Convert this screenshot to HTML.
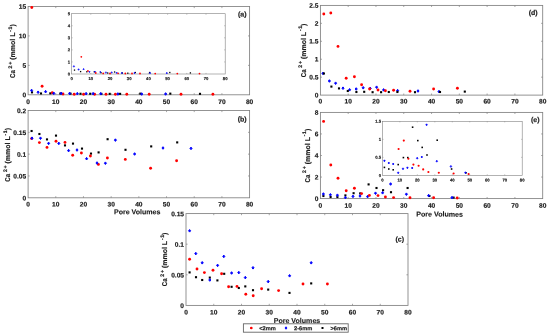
<!DOCTYPE html>
<html lang="en"><head><meta charset="utf-8"><title>Ca2+ vs Pore Volumes</title>
<style>
html,body{margin:0;padding:0;background:#fff;}
body{width:550px;height:336px;overflow:hidden;}
svg{display:block;font-family:"Liberation Sans",sans-serif;fill:#1a1a1a;}
svg text{fill:#1a1a1a;stroke:#1a1a1a;stroke-width:0.18px;text-rendering:geometricPrecision;}
</style></head><body>
<svg width="550" height="336" viewBox="0 0 550 336">
<rect width="550" height="336" fill="#fff"/>
<rect x="28.10" y="6.50" width="221.50" height="88.30" fill="#fff" stroke="#808080" stroke-width="0.85"/>
<text x="28.10" y="103.90" transform="rotate(0.2 28.10 103.90)" font-size="6.6" text-anchor="middle" font-weight="bold" >0</text>
<line x1="55.79" y1="94.80" x2="55.79" y2="93.20" stroke="#808080" stroke-width="0.68"/>
<line x1="55.79" y1="6.50" x2="55.79" y2="8.10" stroke="#808080" stroke-width="0.68"/>
<text x="55.79" y="103.90" transform="rotate(0.2 55.79 103.90)" font-size="6.6" text-anchor="middle" font-weight="bold" >10</text>
<line x1="83.47" y1="94.80" x2="83.47" y2="93.20" stroke="#808080" stroke-width="0.68"/>
<line x1="83.47" y1="6.50" x2="83.47" y2="8.10" stroke="#808080" stroke-width="0.68"/>
<text x="83.47" y="103.90" transform="rotate(0.2 83.47 103.90)" font-size="6.6" text-anchor="middle" font-weight="bold" >20</text>
<line x1="111.16" y1="94.80" x2="111.16" y2="93.20" stroke="#808080" stroke-width="0.68"/>
<line x1="111.16" y1="6.50" x2="111.16" y2="8.10" stroke="#808080" stroke-width="0.68"/>
<text x="111.16" y="103.90" transform="rotate(0.2 111.16 103.90)" font-size="6.6" text-anchor="middle" font-weight="bold" >30</text>
<line x1="138.85" y1="94.80" x2="138.85" y2="93.20" stroke="#808080" stroke-width="0.68"/>
<line x1="138.85" y1="6.50" x2="138.85" y2="8.10" stroke="#808080" stroke-width="0.68"/>
<text x="138.85" y="103.90" transform="rotate(0.2 138.85 103.90)" font-size="6.6" text-anchor="middle" font-weight="bold" >40</text>
<line x1="166.54" y1="94.80" x2="166.54" y2="93.20" stroke="#808080" stroke-width="0.68"/>
<line x1="166.54" y1="6.50" x2="166.54" y2="8.10" stroke="#808080" stroke-width="0.68"/>
<text x="166.54" y="103.90" transform="rotate(0.2 166.54 103.90)" font-size="6.6" text-anchor="middle" font-weight="bold" >50</text>
<line x1="194.22" y1="94.80" x2="194.22" y2="93.20" stroke="#808080" stroke-width="0.68"/>
<line x1="194.22" y1="6.50" x2="194.22" y2="8.10" stroke="#808080" stroke-width="0.68"/>
<text x="194.22" y="103.90" transform="rotate(0.2 194.22 103.90)" font-size="6.6" text-anchor="middle" font-weight="bold" >60</text>
<line x1="221.91" y1="94.80" x2="221.91" y2="93.20" stroke="#808080" stroke-width="0.68"/>
<line x1="221.91" y1="6.50" x2="221.91" y2="8.10" stroke="#808080" stroke-width="0.68"/>
<text x="221.91" y="103.90" transform="rotate(0.2 221.91 103.90)" font-size="6.6" text-anchor="middle" font-weight="bold" >70</text>
<text x="249.60" y="103.90" transform="rotate(0.2 249.60 103.90)" font-size="6.6" text-anchor="middle" font-weight="bold" >80</text>
<text x="26.10" y="97.16" transform="rotate(0.2 26.10 97.16)" font-size="6.6" text-anchor="end" font-weight="bold" >0</text>
<line x1="28.10" y1="65.37" x2="29.70" y2="65.37" stroke="#808080" stroke-width="0.68"/>
<line x1="249.60" y1="65.37" x2="248.00" y2="65.37" stroke="#808080" stroke-width="0.68"/>
<text x="26.10" y="67.73" transform="rotate(0.2 26.10 67.73)" font-size="6.6" text-anchor="end" font-weight="bold" >5</text>
<line x1="28.10" y1="35.93" x2="29.70" y2="35.93" stroke="#808080" stroke-width="0.68"/>
<line x1="249.60" y1="35.93" x2="248.00" y2="35.93" stroke="#808080" stroke-width="0.68"/>
<text x="26.10" y="38.30" transform="rotate(0.2 26.10 38.30)" font-size="6.6" text-anchor="end" font-weight="bold" >10</text>
<text x="26.10" y="8.86" transform="rotate(0.2 26.10 8.86)" font-size="6.6" text-anchor="end" font-weight="bold" >15</text>
<g transform="translate(15.00,77.80) rotate(-90)" font-weight="bold" font-size="7"><text x="-0.2" y="0" textLength="7.9" lengthAdjust="spacingAndGlyphs">Ca</text><text x="9.4" y="-3.4" font-size="5.2" letter-spacing="0.8">2+</text><text x="18.0" y="0">(mmol L</text><text x="46.1" y="-3.4" font-size="5.2" letter-spacing="0.5">-1</text><text x="51.2" y="0">)</text></g>
<text x="242.20" y="16.60" transform="rotate(0.2 242.20 16.60)" font-size="7" text-anchor="middle" font-weight="bold" >(a)</text>
<rect x="30.95" y="91.30" width="2.10" height="2.10" fill="#000000"/>
<rect x="39.95" y="92.40" width="2.10" height="2.10" fill="#000000"/>
<rect x="49.25" y="92.30" width="2.10" height="2.10" fill="#000000"/>
<rect x="59.25" y="92.50" width="2.10" height="2.10" fill="#000000"/>
<rect x="69.45" y="92.60" width="2.10" height="2.10" fill="#000000"/>
<rect x="79.45" y="92.70" width="2.10" height="2.10" fill="#000000"/>
<rect x="89.15" y="92.70" width="2.10" height="2.10" fill="#000000"/>
<rect x="100.35" y="92.80" width="2.10" height="2.10" fill="#000000"/>
<rect x="108.65" y="92.80" width="2.10" height="2.10" fill="#000000"/>
<rect x="119.05" y="92.80" width="2.10" height="2.10" fill="#000000"/>
<rect x="139.25" y="92.60" width="2.10" height="2.10" fill="#000000"/>
<rect x="169.25" y="92.60" width="2.10" height="2.10" fill="#000000"/>
<rect x="198.95" y="92.80" width="2.10" height="2.10" fill="#000000"/>
<circle cx="31.8" cy="7.5" r="1.43" fill="#ff0000"/>
<circle cx="42.1" cy="86.2" r="1.43" fill="#ff0000"/>
<circle cx="52.3" cy="92.8" r="1.43" fill="#ff0000"/>
<circle cx="63.0" cy="94.0" r="1.43" fill="#ff0000"/>
<circle cx="74.2" cy="94.2" r="1.43" fill="#ff0000"/>
<circle cx="83.6" cy="94.2" r="1.43" fill="#ff0000"/>
<circle cx="94.6" cy="94.2" r="1.43" fill="#ff0000"/>
<circle cx="106.0" cy="94.2" r="1.43" fill="#ff0000"/>
<circle cx="115.4" cy="94.2" r="1.43" fill="#ff0000"/>
<circle cx="126.8" cy="94.2" r="1.43" fill="#ff0000"/>
<circle cx="149.2" cy="94.2" r="1.43" fill="#ff0000"/>
<circle cx="181.0" cy="94.2" r="1.43" fill="#ff0000"/>
<circle cx="212.9" cy="94.2" r="1.43" fill="#ff0000"/>
<path d="M31.6 89.15L32.65 90.5L31.6 91.75L30.55 90.5Z" fill="#0000ff" stroke="#0000ff" stroke-width="0.95" stroke-linejoin="round"/>
<path d="M38.1 90.95L39.15 92.2L38.1 93.55L37.05 92.2Z" fill="#0000ff" stroke="#0000ff" stroke-width="0.95" stroke-linejoin="round"/>
<path d="M45.6 90.35L46.65 91.7L45.6 92.95L44.55 91.7Z" fill="#0000ff" stroke="#0000ff" stroke-width="0.95" stroke-linejoin="round"/>
<path d="M53.8 92.05L54.85 93.3L53.8 94.65L52.75 93.3Z" fill="#0000ff" stroke="#0000ff" stroke-width="0.95" stroke-linejoin="round"/>
<path d="M61.2 92.05L62.25 93.3L61.2 94.65L60.15 93.3Z" fill="#0000ff" stroke="#0000ff" stroke-width="0.95" stroke-linejoin="round"/>
<path d="M69.6 92.15L70.65 93.5L69.6 94.75L68.55 93.5Z" fill="#0000ff" stroke="#0000ff" stroke-width="0.95" stroke-linejoin="round"/>
<path d="M77.3 92.35L78.35 93.7L77.3 94.95L76.25 93.7Z" fill="#0000ff" stroke="#0000ff" stroke-width="0.95" stroke-linejoin="round"/>
<path d="M86.1 92.35L87.15 93.7L86.1 94.95L85.05 93.7Z" fill="#0000ff" stroke="#0000ff" stroke-width="0.95" stroke-linejoin="round"/>
<path d="M93.1 92.35L94.15 93.7L93.1 94.95L92.05 93.7Z" fill="#0000ff" stroke="#0000ff" stroke-width="0.95" stroke-linejoin="round"/>
<path d="M100.7 92.45L101.75 93.8L100.7 95.05L99.65 93.8Z" fill="#0000ff" stroke="#0000ff" stroke-width="0.95" stroke-linejoin="round"/>
<path d="M117.9 92.65L118.95 94.0L117.9 95.25L116.85 94.0Z" fill="#0000ff" stroke="#0000ff" stroke-width="0.95" stroke-linejoin="round"/>
<path d="M141.7 92.75L142.75 94.0L141.7 95.35L140.65 94.0Z" fill="#0000ff" stroke="#0000ff" stroke-width="0.95" stroke-linejoin="round"/>
<path d="M165.6 92.65L166.65 94.0L165.6 95.25L164.55 94.0Z" fill="#0000ff" stroke="#0000ff" stroke-width="0.95" stroke-linejoin="round"/>
<rect x="71.60" y="13.70" width="153.60" height="60.30" fill="#fff" stroke="#808080" stroke-width="0.6"/>
<text x="71.60" y="80.10" transform="rotate(0.2 71.60 80.10)" font-size="4.2" text-anchor="middle" font-weight="bold" >0</text>
<line x1="90.80" y1="74.00" x2="90.80" y2="72.90" stroke="#808080" stroke-width="0.48"/>
<line x1="90.80" y1="13.70" x2="90.80" y2="14.80" stroke="#808080" stroke-width="0.48"/>
<text x="90.80" y="80.10" transform="rotate(0.2 90.80 80.10)" font-size="4.2" text-anchor="middle" font-weight="bold" >10</text>
<line x1="110.00" y1="74.00" x2="110.00" y2="72.90" stroke="#808080" stroke-width="0.48"/>
<line x1="110.00" y1="13.70" x2="110.00" y2="14.80" stroke="#808080" stroke-width="0.48"/>
<text x="110.00" y="80.10" transform="rotate(0.2 110.00 80.10)" font-size="4.2" text-anchor="middle" font-weight="bold" >20</text>
<line x1="129.20" y1="74.00" x2="129.20" y2="72.90" stroke="#808080" stroke-width="0.48"/>
<line x1="129.20" y1="13.70" x2="129.20" y2="14.80" stroke="#808080" stroke-width="0.48"/>
<text x="129.20" y="80.10" transform="rotate(0.2 129.20 80.10)" font-size="4.2" text-anchor="middle" font-weight="bold" >30</text>
<line x1="148.40" y1="74.00" x2="148.40" y2="72.90" stroke="#808080" stroke-width="0.48"/>
<line x1="148.40" y1="13.70" x2="148.40" y2="14.80" stroke="#808080" stroke-width="0.48"/>
<text x="148.40" y="80.10" transform="rotate(0.2 148.40 80.10)" font-size="4.2" text-anchor="middle" font-weight="bold" >40</text>
<line x1="167.60" y1="74.00" x2="167.60" y2="72.90" stroke="#808080" stroke-width="0.48"/>
<line x1="167.60" y1="13.70" x2="167.60" y2="14.80" stroke="#808080" stroke-width="0.48"/>
<text x="167.60" y="80.10" transform="rotate(0.2 167.60 80.10)" font-size="4.2" text-anchor="middle" font-weight="bold" >50</text>
<line x1="186.80" y1="74.00" x2="186.80" y2="72.90" stroke="#808080" stroke-width="0.48"/>
<line x1="186.80" y1="13.70" x2="186.80" y2="14.80" stroke="#808080" stroke-width="0.48"/>
<text x="186.80" y="80.10" transform="rotate(0.2 186.80 80.10)" font-size="4.2" text-anchor="middle" font-weight="bold" >60</text>
<line x1="206.00" y1="74.00" x2="206.00" y2="72.90" stroke="#808080" stroke-width="0.48"/>
<line x1="206.00" y1="13.70" x2="206.00" y2="14.80" stroke="#808080" stroke-width="0.48"/>
<text x="206.00" y="80.10" transform="rotate(0.2 206.00 80.10)" font-size="4.2" text-anchor="middle" font-weight="bold" >70</text>
<text x="225.20" y="80.10" transform="rotate(0.2 225.20 80.10)" font-size="4.2" text-anchor="middle" font-weight="bold" >80</text>
<text x="70.00" y="75.50" transform="rotate(0.2 70.00 75.50)" font-size="4.2" text-anchor="end" font-weight="bold" >0</text>
<line x1="71.60" y1="61.94" x2="72.70" y2="61.94" stroke="#808080" stroke-width="0.48"/>
<line x1="225.20" y1="61.94" x2="224.10" y2="61.94" stroke="#808080" stroke-width="0.48"/>
<text x="70.00" y="63.44" transform="rotate(0.2 70.00 63.44)" font-size="4.2" text-anchor="end" font-weight="bold" >1</text>
<line x1="71.60" y1="49.88" x2="72.70" y2="49.88" stroke="#808080" stroke-width="0.48"/>
<line x1="225.20" y1="49.88" x2="224.10" y2="49.88" stroke="#808080" stroke-width="0.48"/>
<text x="70.00" y="51.38" transform="rotate(0.2 70.00 51.38)" font-size="4.2" text-anchor="end" font-weight="bold" >2</text>
<line x1="71.60" y1="37.82" x2="72.70" y2="37.82" stroke="#808080" stroke-width="0.48"/>
<line x1="225.20" y1="37.82" x2="224.10" y2="37.82" stroke="#808080" stroke-width="0.48"/>
<text x="70.00" y="39.32" transform="rotate(0.2 70.00 39.32)" font-size="4.2" text-anchor="end" font-weight="bold" >3</text>
<line x1="71.60" y1="25.76" x2="72.70" y2="25.76" stroke="#808080" stroke-width="0.48"/>
<line x1="225.20" y1="25.76" x2="224.10" y2="25.76" stroke="#808080" stroke-width="0.48"/>
<text x="70.00" y="27.26" transform="rotate(0.2 70.00 27.26)" font-size="4.2" text-anchor="end" font-weight="bold" >4</text>
<text x="70.00" y="15.20" transform="rotate(0.2 70.00 15.20)" font-size="4.2" text-anchor="end" font-weight="bold" >5</text>
<rect x="73.85" y="69.45" width="1.30" height="1.30" fill="#000000"/>
<rect x="79.95" y="70.95" width="1.30" height="1.30" fill="#000000"/>
<rect x="86.15" y="71.15" width="1.30" height="1.30" fill="#000000"/>
<rect x="93.65" y="71.15" width="1.30" height="1.30" fill="#000000"/>
<rect x="100.35" y="72.05" width="1.30" height="1.30" fill="#000000"/>
<rect x="107.05" y="72.35" width="1.30" height="1.30" fill="#000000"/>
<rect x="113.95" y="71.35" width="1.30" height="1.30" fill="#000000"/>
<rect x="121.65" y="72.35" width="1.30" height="1.30" fill="#000000"/>
<rect x="127.15" y="72.55" width="1.30" height="1.30" fill="#000000"/>
<rect x="134.65" y="71.85" width="1.30" height="1.30" fill="#000000"/>
<rect x="148.95" y="71.85" width="1.30" height="1.30" fill="#000000"/>
<rect x="169.15" y="71.85" width="1.30" height="1.30" fill="#000000"/>
<rect x="189.75" y="72.25" width="1.30" height="1.30" fill="#000000"/>
<path d="M73.9 65.59L74.55 66.4L73.9 67.21L73.25 66.4Z" fill="#0000ff" stroke="#0000ff" stroke-width="0.59" stroke-linejoin="round"/>
<path d="M78.6 68.69L79.25 69.5L78.6 70.31L77.95 69.5Z" fill="#0000ff" stroke="#0000ff" stroke-width="0.59" stroke-linejoin="round"/>
<path d="M83.6 68.39L84.25 69.2L83.6 70.01L82.95 69.2Z" fill="#0000ff" stroke="#0000ff" stroke-width="0.59" stroke-linejoin="round"/>
<path d="M89.4 70.99L90.05 71.8L89.4 72.61L88.75 71.8Z" fill="#0000ff" stroke="#0000ff" stroke-width="0.59" stroke-linejoin="round"/>
<path d="M95.0 70.99L95.65 71.8L95.0 72.61L94.35 71.8Z" fill="#0000ff" stroke="#0000ff" stroke-width="0.59" stroke-linejoin="round"/>
<path d="M100.3 71.19L100.95 72.0L100.3 72.81L99.65 72.0Z" fill="#0000ff" stroke="#0000ff" stroke-width="0.59" stroke-linejoin="round"/>
<path d="M105.9 71.69L106.55 72.5L105.9 73.31L105.25 72.5Z" fill="#0000ff" stroke="#0000ff" stroke-width="0.59" stroke-linejoin="round"/>
<path d="M111.7 71.69L112.35 72.5L111.7 73.31L111.05 72.5Z" fill="#0000ff" stroke="#0000ff" stroke-width="0.59" stroke-linejoin="round"/>
<path d="M116.7 71.99L117.35 72.8L116.7 73.61L116.05 72.8Z" fill="#0000ff" stroke="#0000ff" stroke-width="0.59" stroke-linejoin="round"/>
<path d="M121.9 72.19L122.55 73.0L121.9 73.81L121.25 73.0Z" fill="#0000ff" stroke="#0000ff" stroke-width="0.59" stroke-linejoin="round"/>
<path d="M134.5 72.19L135.15 73.0L134.5 73.81L133.85 73.0Z" fill="#0000ff" stroke="#0000ff" stroke-width="0.59" stroke-linejoin="round"/>
<path d="M150.0 72.29L150.65 73.1L150.0 73.91L149.35 73.1Z" fill="#0000ff" stroke="#0000ff" stroke-width="0.59" stroke-linejoin="round"/>
<path d="M166.8 72.29L167.45 73.1L166.8 73.91L166.15 73.1Z" fill="#0000ff" stroke="#0000ff" stroke-width="0.59" stroke-linejoin="round"/>
<circle cx="81.3" cy="56.8" r="0.89" fill="#ff0000"/>
<circle cx="87.9" cy="70.9" r="0.89" fill="#ff0000"/>
<circle cx="95.8" cy="73.0" r="0.89" fill="#ff0000"/>
<circle cx="103.2" cy="73.4" r="0.89" fill="#ff0000"/>
<circle cx="110.0" cy="73.5" r="0.89" fill="#ff0000"/>
<circle cx="118.1" cy="73.3" r="0.89" fill="#ff0000"/>
<circle cx="125.3" cy="73.5" r="0.89" fill="#ff0000"/>
<circle cx="132.0" cy="73.5" r="0.89" fill="#ff0000"/>
<circle cx="140.0" cy="73.5" r="0.89" fill="#ff0000"/>
<circle cx="155.2" cy="73.6" r="0.89" fill="#ff0000"/>
<circle cx="177.3" cy="73.6" r="0.89" fill="#ff0000"/>
<circle cx="199.5" cy="73.6" r="0.89" fill="#ff0000"/>
<rect x="28.10" y="110.50" width="221.50" height="87.30" fill="#fff" stroke="#808080" stroke-width="0.85"/>
<text x="28.10" y="206.60" transform="rotate(0.2 28.10 206.60)" font-size="6.6" text-anchor="middle" font-weight="bold" >0</text>
<line x1="55.79" y1="197.80" x2="55.79" y2="196.20" stroke="#808080" stroke-width="0.68"/>
<line x1="55.79" y1="110.50" x2="55.79" y2="112.10" stroke="#808080" stroke-width="0.68"/>
<text x="55.79" y="206.60" transform="rotate(0.2 55.79 206.60)" font-size="6.6" text-anchor="middle" font-weight="bold" >10</text>
<line x1="83.47" y1="197.80" x2="83.47" y2="196.20" stroke="#808080" stroke-width="0.68"/>
<line x1="83.47" y1="110.50" x2="83.47" y2="112.10" stroke="#808080" stroke-width="0.68"/>
<text x="83.47" y="206.60" transform="rotate(0.2 83.47 206.60)" font-size="6.6" text-anchor="middle" font-weight="bold" >20</text>
<line x1="111.16" y1="197.80" x2="111.16" y2="196.20" stroke="#808080" stroke-width="0.68"/>
<line x1="111.16" y1="110.50" x2="111.16" y2="112.10" stroke="#808080" stroke-width="0.68"/>
<text x="111.16" y="206.60" transform="rotate(0.2 111.16 206.60)" font-size="6.6" text-anchor="middle" font-weight="bold" >30</text>
<line x1="138.85" y1="197.80" x2="138.85" y2="196.20" stroke="#808080" stroke-width="0.68"/>
<line x1="138.85" y1="110.50" x2="138.85" y2="112.10" stroke="#808080" stroke-width="0.68"/>
<text x="138.85" y="206.60" transform="rotate(0.2 138.85 206.60)" font-size="6.6" text-anchor="middle" font-weight="bold" >40</text>
<line x1="166.54" y1="197.80" x2="166.54" y2="196.20" stroke="#808080" stroke-width="0.68"/>
<line x1="166.54" y1="110.50" x2="166.54" y2="112.10" stroke="#808080" stroke-width="0.68"/>
<text x="166.54" y="206.60" transform="rotate(0.2 166.54 206.60)" font-size="6.6" text-anchor="middle" font-weight="bold" >50</text>
<line x1="194.22" y1="197.80" x2="194.22" y2="196.20" stroke="#808080" stroke-width="0.68"/>
<line x1="194.22" y1="110.50" x2="194.22" y2="112.10" stroke="#808080" stroke-width="0.68"/>
<text x="194.22" y="206.60" transform="rotate(0.2 194.22 206.60)" font-size="6.6" text-anchor="middle" font-weight="bold" >60</text>
<line x1="221.91" y1="197.80" x2="221.91" y2="196.20" stroke="#808080" stroke-width="0.68"/>
<line x1="221.91" y1="110.50" x2="221.91" y2="112.10" stroke="#808080" stroke-width="0.68"/>
<text x="221.91" y="206.60" transform="rotate(0.2 221.91 206.60)" font-size="6.6" text-anchor="middle" font-weight="bold" >70</text>
<text x="249.60" y="206.60" transform="rotate(0.2 249.60 206.60)" font-size="6.6" text-anchor="middle" font-weight="bold" >80</text>
<text x="26.10" y="200.46" transform="rotate(0.2 26.10 200.46)" font-size="6.6" text-anchor="end" font-weight="bold" >0</text>
<line x1="28.10" y1="175.98" x2="29.70" y2="175.98" stroke="#808080" stroke-width="0.68"/>
<line x1="249.60" y1="175.98" x2="248.00" y2="175.98" stroke="#808080" stroke-width="0.68"/>
<text x="26.10" y="178.64" transform="rotate(0.2 26.10 178.64)" font-size="6.6" text-anchor="end" font-weight="bold" >0.05</text>
<line x1="28.10" y1="154.15" x2="29.70" y2="154.15" stroke="#808080" stroke-width="0.68"/>
<line x1="249.60" y1="154.15" x2="248.00" y2="154.15" stroke="#808080" stroke-width="0.68"/>
<text x="26.10" y="156.81" transform="rotate(0.2 26.10 156.81)" font-size="6.6" text-anchor="end" font-weight="bold" >0.1</text>
<line x1="28.10" y1="132.33" x2="29.70" y2="132.33" stroke="#808080" stroke-width="0.68"/>
<line x1="249.60" y1="132.33" x2="248.00" y2="132.33" stroke="#808080" stroke-width="0.68"/>
<text x="26.10" y="134.99" transform="rotate(0.2 26.10 134.99)" font-size="6.6" text-anchor="end" font-weight="bold" >0.15</text>
<text x="26.10" y="113.16" transform="rotate(0.2 26.10 113.16)" font-size="6.6" text-anchor="end" font-weight="bold" >0.2</text>
<g transform="translate(9.90,181.50) rotate(-90)" font-weight="bold" font-size="7"><text x="-0.2" y="0" textLength="7.9" lengthAdjust="spacingAndGlyphs">Ca</text><text x="9.4" y="-3.4" font-size="5.2" letter-spacing="0.8">2+</text><text x="18.0" y="0">(mmol L</text><text x="46.1" y="-3.4" font-size="5.2" letter-spacing="0.5">-1</text><text x="51.2" y="0">)</text></g>
<text x="242.20" y="121.40" transform="rotate(0.2 242.20 121.40)" font-size="7" text-anchor="middle" font-weight="bold" >(b)</text>
<text x="137.20" y="214.30" transform="rotate(0.2 137.20 214.30)" font-size="7.05" text-anchor="middle" font-weight="bold" style="stroke-width:0.12px">Pore Volumes</text>
<rect x="30.55" y="129.95" width="2.10" height="2.10" fill="#000000"/>
<rect x="38.35" y="132.95" width="2.10" height="2.10" fill="#000000"/>
<rect x="45.95" y="138.35" width="2.10" height="2.10" fill="#000000"/>
<rect x="54.95" y="134.55" width="2.10" height="2.10" fill="#000000"/>
<rect x="63.95" y="144.35" width="2.10" height="2.10" fill="#000000"/>
<rect x="71.95" y="142.55" width="2.10" height="2.10" fill="#000000"/>
<rect x="80.95" y="147.55" width="2.10" height="2.10" fill="#000000"/>
<rect x="89.95" y="152.55" width="2.10" height="2.10" fill="#000000"/>
<rect x="97.55" y="151.35" width="2.10" height="2.10" fill="#000000"/>
<rect x="106.55" y="138.15" width="2.10" height="2.10" fill="#000000"/>
<rect x="124.45" y="148.75" width="2.10" height="2.10" fill="#000000"/>
<rect x="150.15" y="145.35" width="2.10" height="2.10" fill="#000000"/>
<rect x="176.15" y="141.35" width="2.10" height="2.10" fill="#000000"/>
<circle cx="31.6" cy="138.6" r="1.43" fill="#ff0000"/>
<circle cx="39.4" cy="142.6" r="1.43" fill="#ff0000"/>
<circle cx="47.0" cy="147.4" r="1.43" fill="#ff0000"/>
<circle cx="56.0" cy="141.2" r="1.43" fill="#ff0000"/>
<circle cx="65.0" cy="142.4" r="1.43" fill="#ff0000"/>
<circle cx="72.7" cy="155.2" r="1.43" fill="#ff0000"/>
<circle cx="81.4" cy="153.0" r="1.43" fill="#ff0000"/>
<circle cx="90.4" cy="156.0" r="1.43" fill="#ff0000"/>
<circle cx="98.4" cy="164.4" r="1.43" fill="#ff0000"/>
<circle cx="107.4" cy="158.0" r="1.43" fill="#ff0000"/>
<circle cx="125.3" cy="159.4" r="1.43" fill="#ff0000"/>
<circle cx="150.6" cy="168.2" r="1.43" fill="#ff0000"/>
<circle cx="176.6" cy="160.8" r="1.43" fill="#ff0000"/>
<path d="M32.0 136.90L33.05 138.2L32.0 139.50L30.95 138.2Z" fill="#0000ff" stroke="#0000ff" stroke-width="0.95" stroke-linejoin="round"/>
<path d="M40.5 136.90L41.55 138.2L40.5 139.50L39.45 138.2Z" fill="#0000ff" stroke="#0000ff" stroke-width="0.95" stroke-linejoin="round"/>
<path d="M48.6 142.10L49.65 143.4L48.6 144.70L47.55 143.4Z" fill="#0000ff" stroke="#0000ff" stroke-width="0.95" stroke-linejoin="round"/>
<path d="M58.8 142.10L59.85 143.4L58.8 144.70L57.75 143.4Z" fill="#0000ff" stroke="#0000ff" stroke-width="0.95" stroke-linejoin="round"/>
<path d="M68.6 149.30L69.65 150.6L68.6 151.90L67.55 150.6Z" fill="#0000ff" stroke="#0000ff" stroke-width="0.95" stroke-linejoin="round"/>
<path d="M77.0 148.70L78.05 150.0L77.0 151.30L75.95 150.0Z" fill="#0000ff" stroke="#0000ff" stroke-width="0.95" stroke-linejoin="round"/>
<path d="M86.6 157.40L87.65 158.7L86.6 160.00L85.55 158.7Z" fill="#0000ff" stroke="#0000ff" stroke-width="0.95" stroke-linejoin="round"/>
<path d="M97.0 161.70L98.05 163.0L97.0 164.30L95.95 163.0Z" fill="#0000ff" stroke="#0000ff" stroke-width="0.95" stroke-linejoin="round"/>
<path d="M105.4 161.90L106.45 163.2L105.4 164.50L104.35 163.2Z" fill="#0000ff" stroke="#0000ff" stroke-width="0.95" stroke-linejoin="round"/>
<path d="M115.4 138.80L116.45 140.1L115.4 141.40L114.35 140.1Z" fill="#0000ff" stroke="#0000ff" stroke-width="0.95" stroke-linejoin="round"/>
<path d="M134.6 152.70L135.65 154.0L134.6 155.30L133.55 154.0Z" fill="#0000ff" stroke="#0000ff" stroke-width="0.95" stroke-linejoin="round"/>
<path d="M163.0 146.70L164.05 148.0L163.0 149.30L161.95 148.0Z" fill="#0000ff" stroke="#0000ff" stroke-width="0.95" stroke-linejoin="round"/>
<path d="M191.0 147.10L192.05 148.4L191.0 149.70L189.95 148.4Z" fill="#0000ff" stroke="#0000ff" stroke-width="0.95" stroke-linejoin="round"/>
<rect x="320.40" y="5.40" width="222.30" height="89.70" fill="#fff" stroke="#808080" stroke-width="0.85"/>
<text x="320.40" y="103.40" transform="rotate(0.2 320.40 103.40)" font-size="6.6" text-anchor="middle" font-weight="bold" >0</text>
<line x1="348.19" y1="95.10" x2="348.19" y2="93.50" stroke="#808080" stroke-width="0.68"/>
<line x1="348.19" y1="5.40" x2="348.19" y2="7.00" stroke="#808080" stroke-width="0.68"/>
<text x="348.19" y="103.40" transform="rotate(0.2 348.19 103.40)" font-size="6.6" text-anchor="middle" font-weight="bold" >10</text>
<line x1="375.98" y1="95.10" x2="375.98" y2="93.50" stroke="#808080" stroke-width="0.68"/>
<line x1="375.98" y1="5.40" x2="375.98" y2="7.00" stroke="#808080" stroke-width="0.68"/>
<text x="375.98" y="103.40" transform="rotate(0.2 375.98 103.40)" font-size="6.6" text-anchor="middle" font-weight="bold" >20</text>
<line x1="403.76" y1="95.10" x2="403.76" y2="93.50" stroke="#808080" stroke-width="0.68"/>
<line x1="403.76" y1="5.40" x2="403.76" y2="7.00" stroke="#808080" stroke-width="0.68"/>
<text x="403.76" y="103.40" transform="rotate(0.2 403.76 103.40)" font-size="6.6" text-anchor="middle" font-weight="bold" >30</text>
<line x1="431.55" y1="95.10" x2="431.55" y2="93.50" stroke="#808080" stroke-width="0.68"/>
<line x1="431.55" y1="5.40" x2="431.55" y2="7.00" stroke="#808080" stroke-width="0.68"/>
<text x="431.55" y="103.40" transform="rotate(0.2 431.55 103.40)" font-size="6.6" text-anchor="middle" font-weight="bold" >40</text>
<line x1="459.34" y1="95.10" x2="459.34" y2="93.50" stroke="#808080" stroke-width="0.68"/>
<line x1="459.34" y1="5.40" x2="459.34" y2="7.00" stroke="#808080" stroke-width="0.68"/>
<text x="459.34" y="103.40" transform="rotate(0.2 459.34 103.40)" font-size="6.6" text-anchor="middle" font-weight="bold" >50</text>
<line x1="487.12" y1="95.10" x2="487.12" y2="93.50" stroke="#808080" stroke-width="0.68"/>
<line x1="487.12" y1="5.40" x2="487.12" y2="7.00" stroke="#808080" stroke-width="0.68"/>
<text x="487.12" y="103.40" transform="rotate(0.2 487.12 103.40)" font-size="6.6" text-anchor="middle" font-weight="bold" >60</text>
<line x1="514.91" y1="95.10" x2="514.91" y2="93.50" stroke="#808080" stroke-width="0.68"/>
<line x1="514.91" y1="5.40" x2="514.91" y2="7.00" stroke="#808080" stroke-width="0.68"/>
<text x="514.91" y="103.40" transform="rotate(0.2 514.91 103.40)" font-size="6.6" text-anchor="middle" font-weight="bold" >70</text>
<text x="542.70" y="103.40" transform="rotate(0.2 542.70 103.40)" font-size="6.6" text-anchor="middle" font-weight="bold" >80</text>
<text x="318.40" y="97.46" transform="rotate(0.2 318.40 97.46)" font-size="6.6" text-anchor="end" font-weight="bold" >0</text>
<line x1="320.40" y1="77.16" x2="322.00" y2="77.16" stroke="#808080" stroke-width="0.68"/>
<line x1="542.70" y1="77.16" x2="541.10" y2="77.16" stroke="#808080" stroke-width="0.68"/>
<text x="318.40" y="79.52" transform="rotate(0.2 318.40 79.52)" font-size="6.6" text-anchor="end" font-weight="bold" >0.5</text>
<line x1="320.40" y1="59.22" x2="322.00" y2="59.22" stroke="#808080" stroke-width="0.68"/>
<line x1="542.70" y1="59.22" x2="541.10" y2="59.22" stroke="#808080" stroke-width="0.68"/>
<text x="318.40" y="61.58" transform="rotate(0.2 318.40 61.58)" font-size="6.6" text-anchor="end" font-weight="bold" >1</text>
<line x1="320.40" y1="41.28" x2="322.00" y2="41.28" stroke="#808080" stroke-width="0.68"/>
<line x1="542.70" y1="41.28" x2="541.10" y2="41.28" stroke="#808080" stroke-width="0.68"/>
<text x="318.40" y="43.64" transform="rotate(0.2 318.40 43.64)" font-size="6.6" text-anchor="end" font-weight="bold" >1.5</text>
<line x1="320.40" y1="23.34" x2="322.00" y2="23.34" stroke="#808080" stroke-width="0.68"/>
<line x1="542.70" y1="23.34" x2="541.10" y2="23.34" stroke="#808080" stroke-width="0.68"/>
<text x="318.40" y="25.70" transform="rotate(0.2 318.40 25.70)" font-size="6.6" text-anchor="end" font-weight="bold" >2</text>
<text x="318.40" y="7.76" transform="rotate(0.2 318.40 7.76)" font-size="6.6" text-anchor="end" font-weight="bold" >2.5</text>
<g transform="translate(305.60,77.10) rotate(-90)" font-weight="bold" font-size="7"><text x="-0.2" y="0" textLength="7.9" lengthAdjust="spacingAndGlyphs">Ca</text><text x="9.4" y="-3.4" font-size="5.2" letter-spacing="0.8">2+</text><text x="18.0" y="0">(mmol L</text><text x="46.1" y="-3.4" font-size="5.2" letter-spacing="0.5">-1</text><text x="51.2" y="0">)</text></g>
<text x="533.20" y="15.00" transform="rotate(0.2 533.20 15.00)" font-size="7" text-anchor="middle" font-weight="bold" >(d)</text>
<path d="M323.0 72.10L324.05 73.4L323.0 74.70L321.95 73.4Z" fill="#0000ff" stroke="#0000ff" stroke-width="0.95" stroke-linejoin="round"/>
<path d="M329.4 79.70L330.45 81.0L329.4 82.30L328.35 81.0Z" fill="#0000ff" stroke="#0000ff" stroke-width="0.95" stroke-linejoin="round"/>
<path d="M335.6 81.90L336.65 83.2L335.6 84.50L334.55 83.2Z" fill="#0000ff" stroke="#0000ff" stroke-width="0.95" stroke-linejoin="round"/>
<path d="M343.0 86.90L344.05 88.2L343.0 89.50L341.95 88.2Z" fill="#0000ff" stroke="#0000ff" stroke-width="0.95" stroke-linejoin="round"/>
<path d="M349.6 88.50L350.65 89.8L349.6 91.10L348.55 89.8Z" fill="#0000ff" stroke="#0000ff" stroke-width="0.95" stroke-linejoin="round"/>
<path d="M356.2 87.70L357.25 89.0L356.2 90.30L355.15 89.0Z" fill="#0000ff" stroke="#0000ff" stroke-width="0.95" stroke-linejoin="round"/>
<path d="M363.2 86.50L364.25 87.8L363.2 89.10L362.15 87.8Z" fill="#0000ff" stroke="#0000ff" stroke-width="0.95" stroke-linejoin="round"/>
<path d="M370.2 87.10L371.25 88.4L370.2 89.70L369.15 88.4Z" fill="#0000ff" stroke="#0000ff" stroke-width="0.95" stroke-linejoin="round"/>
<path d="M376.6 85.90L377.65 87.2L376.6 88.50L375.55 87.2Z" fill="#0000ff" stroke="#0000ff" stroke-width="0.95" stroke-linejoin="round"/>
<path d="M383.6 88.60L384.65 89.9L383.6 91.20L382.55 89.9Z" fill="#0000ff" stroke="#0000ff" stroke-width="0.95" stroke-linejoin="round"/>
<path d="M397.6 89.30L398.65 90.6L397.6 91.90L396.55 90.6Z" fill="#0000ff" stroke="#0000ff" stroke-width="0.95" stroke-linejoin="round"/>
<path d="M418.0 89.70L419.05 91.0L418.0 92.30L416.95 91.0Z" fill="#0000ff" stroke="#0000ff" stroke-width="0.95" stroke-linejoin="round"/>
<path d="M439.0 90.30L440.05 91.6L439.0 92.90L437.95 91.6Z" fill="#0000ff" stroke="#0000ff" stroke-width="0.95" stroke-linejoin="round"/>
<rect x="322.85" y="72.45" width="2.10" height="2.10" fill="#000000"/>
<rect x="330.35" y="85.55" width="2.10" height="2.10" fill="#000000"/>
<rect x="337.95" y="87.35" width="2.10" height="2.10" fill="#000000"/>
<rect x="346.75" y="89.95" width="2.10" height="2.10" fill="#000000"/>
<rect x="355.35" y="90.95" width="2.10" height="2.10" fill="#000000"/>
<rect x="363.15" y="90.75" width="2.10" height="2.10" fill="#000000"/>
<rect x="371.55" y="91.15" width="2.10" height="2.10" fill="#000000"/>
<rect x="380.05" y="91.15" width="2.10" height="2.10" fill="#000000"/>
<rect x="387.75" y="90.95" width="2.10" height="2.10" fill="#000000"/>
<rect x="396.35" y="90.95" width="2.10" height="2.10" fill="#000000"/>
<rect x="413.95" y="91.15" width="2.10" height="2.10" fill="#000000"/>
<rect x="438.95" y="90.95" width="2.10" height="2.10" fill="#000000"/>
<rect x="463.75" y="90.55" width="2.10" height="2.10" fill="#000000"/>
<circle cx="323.8" cy="14.0" r="1.43" fill="#ff0000"/>
<circle cx="330.8" cy="13.0" r="1.43" fill="#ff0000"/>
<circle cx="338.0" cy="46.4" r="1.43" fill="#ff0000"/>
<circle cx="346.2" cy="78.2" r="1.43" fill="#ff0000"/>
<circle cx="354.4" cy="76.8" r="1.43" fill="#ff0000"/>
<circle cx="361.6" cy="84.8" r="1.43" fill="#ff0000"/>
<circle cx="369.6" cy="89.0" r="1.43" fill="#ff0000"/>
<circle cx="378.0" cy="90.0" r="1.43" fill="#ff0000"/>
<circle cx="385.4" cy="90.8" r="1.43" fill="#ff0000"/>
<circle cx="393.6" cy="90.3" r="1.43" fill="#ff0000"/>
<circle cx="410.0" cy="91.2" r="1.43" fill="#ff0000"/>
<circle cx="433.6" cy="89.0" r="1.43" fill="#ff0000"/>
<circle cx="457.4" cy="88.2" r="1.43" fill="#ff0000"/>
<rect x="320.40" y="112.40" width="222.30" height="86.20" fill="#fff" stroke="#808080" stroke-width="0.85"/>
<text x="320.40" y="207.70" transform="rotate(0.2 320.40 207.70)" font-size="6.6" text-anchor="middle" font-weight="bold" >0</text>
<line x1="348.19" y1="198.60" x2="348.19" y2="197.00" stroke="#808080" stroke-width="0.68"/>
<line x1="348.19" y1="112.40" x2="348.19" y2="114.00" stroke="#808080" stroke-width="0.68"/>
<text x="348.19" y="207.70" transform="rotate(0.2 348.19 207.70)" font-size="6.6" text-anchor="middle" font-weight="bold" >10</text>
<line x1="375.98" y1="198.60" x2="375.98" y2="197.00" stroke="#808080" stroke-width="0.68"/>
<line x1="375.98" y1="112.40" x2="375.98" y2="114.00" stroke="#808080" stroke-width="0.68"/>
<text x="375.98" y="207.70" transform="rotate(0.2 375.98 207.70)" font-size="6.6" text-anchor="middle" font-weight="bold" >20</text>
<line x1="403.76" y1="198.60" x2="403.76" y2="197.00" stroke="#808080" stroke-width="0.68"/>
<line x1="403.76" y1="112.40" x2="403.76" y2="114.00" stroke="#808080" stroke-width="0.68"/>
<text x="403.76" y="207.70" transform="rotate(0.2 403.76 207.70)" font-size="6.6" text-anchor="middle" font-weight="bold" >30</text>
<line x1="431.55" y1="198.60" x2="431.55" y2="197.00" stroke="#808080" stroke-width="0.68"/>
<line x1="431.55" y1="112.40" x2="431.55" y2="114.00" stroke="#808080" stroke-width="0.68"/>
<text x="431.55" y="207.70" transform="rotate(0.2 431.55 207.70)" font-size="6.6" text-anchor="middle" font-weight="bold" >40</text>
<line x1="459.34" y1="198.60" x2="459.34" y2="197.00" stroke="#808080" stroke-width="0.68"/>
<line x1="459.34" y1="112.40" x2="459.34" y2="114.00" stroke="#808080" stroke-width="0.68"/>
<text x="459.34" y="207.70" transform="rotate(0.2 459.34 207.70)" font-size="6.6" text-anchor="middle" font-weight="bold" >50</text>
<line x1="487.12" y1="198.60" x2="487.12" y2="197.00" stroke="#808080" stroke-width="0.68"/>
<line x1="487.12" y1="112.40" x2="487.12" y2="114.00" stroke="#808080" stroke-width="0.68"/>
<text x="487.12" y="207.70" transform="rotate(0.2 487.12 207.70)" font-size="6.6" text-anchor="middle" font-weight="bold" >60</text>
<line x1="514.91" y1="198.60" x2="514.91" y2="197.00" stroke="#808080" stroke-width="0.68"/>
<line x1="514.91" y1="112.40" x2="514.91" y2="114.00" stroke="#808080" stroke-width="0.68"/>
<text x="514.91" y="207.70" transform="rotate(0.2 514.91 207.70)" font-size="6.6" text-anchor="middle" font-weight="bold" >70</text>
<text x="542.70" y="207.70" transform="rotate(0.2 542.70 207.70)" font-size="6.6" text-anchor="middle" font-weight="bold" >80</text>
<text x="318.40" y="200.96" transform="rotate(0.2 318.40 200.96)" font-size="6.6" text-anchor="end" font-weight="bold" >0</text>
<line x1="320.40" y1="177.05" x2="322.00" y2="177.05" stroke="#808080" stroke-width="0.68"/>
<line x1="542.70" y1="177.05" x2="541.10" y2="177.05" stroke="#808080" stroke-width="0.68"/>
<text x="318.40" y="179.41" transform="rotate(0.2 318.40 179.41)" font-size="6.6" text-anchor="end" font-weight="bold" >2</text>
<line x1="320.40" y1="155.50" x2="322.00" y2="155.50" stroke="#808080" stroke-width="0.68"/>
<line x1="542.70" y1="155.50" x2="541.10" y2="155.50" stroke="#808080" stroke-width="0.68"/>
<text x="318.40" y="157.86" transform="rotate(0.2 318.40 157.86)" font-size="6.6" text-anchor="end" font-weight="bold" >4</text>
<line x1="320.40" y1="133.95" x2="322.00" y2="133.95" stroke="#808080" stroke-width="0.68"/>
<line x1="542.70" y1="133.95" x2="541.10" y2="133.95" stroke="#808080" stroke-width="0.68"/>
<text x="318.40" y="136.31" transform="rotate(0.2 318.40 136.31)" font-size="6.6" text-anchor="end" font-weight="bold" >6</text>
<text x="318.40" y="114.76" transform="rotate(0.2 318.40 114.76)" font-size="6.6" text-anchor="end" font-weight="bold" >8</text>
<g transform="translate(309.80,182.30) rotate(-90)" font-weight="bold" font-size="7"><text x="-0.2" y="0" textLength="7.9" lengthAdjust="spacingAndGlyphs">Ca</text><text x="9.4" y="-3.4" font-size="5.2" letter-spacing="0.8">2+</text><text x="18.0" y="0">(mmol L</text><text x="46.1" y="-3.4" font-size="5.2" letter-spacing="0.5">-1</text><text x="51.2" y="0">)</text></g>
<text x="535.20" y="122.00" transform="rotate(0.2 535.20 122.00)" font-size="7" text-anchor="middle" font-weight="bold" >(e)</text>
<text x="439.60" y="216.60" transform="rotate(0.2 439.60 216.60)" font-size="7.1" text-anchor="middle" font-weight="bold" style="stroke-width:0.12px">Pore Volumes</text>
<rect x="322.35" y="194.95" width="2.10" height="2.10" fill="#000000"/>
<rect x="329.55" y="195.95" width="2.10" height="2.10" fill="#000000"/>
<rect x="336.35" y="195.95" width="2.10" height="2.10" fill="#000000"/>
<rect x="344.35" y="194.35" width="2.10" height="2.10" fill="#000000"/>
<rect x="352.55" y="192.15" width="2.10" height="2.10" fill="#000000"/>
<rect x="359.15" y="192.35" width="2.10" height="2.10" fill="#000000"/>
<rect x="367.55" y="183.35" width="2.10" height="2.10" fill="#000000"/>
<rect x="375.45" y="186.95" width="2.10" height="2.10" fill="#000000"/>
<rect x="382.05" y="189.15" width="2.10" height="2.10" fill="#000000"/>
<rect x="389.95" y="191.15" width="2.10" height="2.10" fill="#000000"/>
<rect x="406.55" y="186.95" width="2.10" height="2.10" fill="#000000"/>
<rect x="428.35" y="194.95" width="2.10" height="2.10" fill="#000000"/>
<rect x="452.55" y="196.55" width="2.10" height="2.10" fill="#000000"/>
<path d="M323.4 192.70L324.45 194.0L323.4 195.30L322.35 194.0Z" fill="#0000ff" stroke="#0000ff" stroke-width="0.95" stroke-linejoin="round"/>
<path d="M330.4 193.50L331.45 194.8L330.4 196.10L329.35 194.8Z" fill="#0000ff" stroke="#0000ff" stroke-width="0.95" stroke-linejoin="round"/>
<path d="M337.4 193.90L338.45 195.2L337.4 196.50L336.35 195.2Z" fill="#0000ff" stroke="#0000ff" stroke-width="0.95" stroke-linejoin="round"/>
<path d="M345.4 196.30L346.45 197.6L345.4 198.90L344.35 197.6Z" fill="#0000ff" stroke="#0000ff" stroke-width="0.95" stroke-linejoin="round"/>
<path d="M353.0 195.10L354.05 196.4L353.0 197.70L351.95 196.4Z" fill="#0000ff" stroke="#0000ff" stroke-width="0.95" stroke-linejoin="round"/>
<path d="M360.0 194.70L361.05 196.0L360.0 197.30L358.95 196.0Z" fill="#0000ff" stroke="#0000ff" stroke-width="0.95" stroke-linejoin="round"/>
<path d="M367.6 195.30L368.65 196.6L367.6 197.90L366.55 196.6Z" fill="#0000ff" stroke="#0000ff" stroke-width="0.95" stroke-linejoin="round"/>
<path d="M375.5 191.90L376.55 193.2L375.5 194.50L374.45 193.2Z" fill="#0000ff" stroke="#0000ff" stroke-width="0.95" stroke-linejoin="round"/>
<path d="M382.6 191.50L383.65 192.8L382.6 194.10L381.55 192.8Z" fill="#0000ff" stroke="#0000ff" stroke-width="0.95" stroke-linejoin="round"/>
<path d="M390.6 182.70L391.65 184.0L390.6 185.30L389.55 184.0Z" fill="#0000ff" stroke="#0000ff" stroke-width="0.95" stroke-linejoin="round"/>
<path d="M406.4 192.90L407.45 194.2L406.4 195.50L405.35 194.2Z" fill="#0000ff" stroke="#0000ff" stroke-width="0.95" stroke-linejoin="round"/>
<path d="M428.6 194.30L429.65 195.6L428.6 196.90L427.55 195.6Z" fill="#0000ff" stroke="#0000ff" stroke-width="0.95" stroke-linejoin="round"/>
<path d="M452.0 196.30L453.05 197.6L452.0 198.90L450.95 197.6Z" fill="#0000ff" stroke="#0000ff" stroke-width="0.95" stroke-linejoin="round"/>
<circle cx="323.6" cy="121.4" r="1.43" fill="#ff0000"/>
<circle cx="330.8" cy="165.0" r="1.43" fill="#ff0000"/>
<circle cx="338.0" cy="178.2" r="1.43" fill="#ff0000"/>
<circle cx="346.2" cy="190.8" r="1.43" fill="#ff0000"/>
<circle cx="354.4" cy="188.2" r="1.43" fill="#ff0000"/>
<circle cx="361.6" cy="193.6" r="1.43" fill="#ff0000"/>
<circle cx="369.4" cy="195.4" r="1.43" fill="#ff0000"/>
<circle cx="378.0" cy="195.6" r="1.43" fill="#ff0000"/>
<circle cx="385.4" cy="197.0" r="1.43" fill="#ff0000"/>
<circle cx="393.6" cy="197.6" r="1.43" fill="#ff0000"/>
<circle cx="410.0" cy="197.8" r="1.43" fill="#ff0000"/>
<circle cx="433.6" cy="197.8" r="1.43" fill="#ff0000"/>
<circle cx="457.2" cy="198.0" r="1.43" fill="#ff0000"/>
<rect x="382.40" y="121.30" width="139.80" height="54.10" fill="#fff" stroke="#808080" stroke-width="0.6"/>
<text x="382.40" y="181.40" transform="rotate(0.2 382.40 181.40)" font-size="4.2" text-anchor="middle" font-weight="bold" >0</text>
<line x1="399.88" y1="175.40" x2="399.88" y2="174.30" stroke="#808080" stroke-width="0.48"/>
<line x1="399.88" y1="121.30" x2="399.88" y2="122.40" stroke="#808080" stroke-width="0.48"/>
<text x="399.88" y="181.40" transform="rotate(0.2 399.88 181.40)" font-size="4.2" text-anchor="middle" font-weight="bold" >10</text>
<line x1="417.35" y1="175.40" x2="417.35" y2="174.30" stroke="#808080" stroke-width="0.48"/>
<line x1="417.35" y1="121.30" x2="417.35" y2="122.40" stroke="#808080" stroke-width="0.48"/>
<text x="417.35" y="181.40" transform="rotate(0.2 417.35 181.40)" font-size="4.2" text-anchor="middle" font-weight="bold" >20</text>
<line x1="434.82" y1="175.40" x2="434.82" y2="174.30" stroke="#808080" stroke-width="0.48"/>
<line x1="434.82" y1="121.30" x2="434.82" y2="122.40" stroke="#808080" stroke-width="0.48"/>
<text x="434.82" y="181.40" transform="rotate(0.2 434.82 181.40)" font-size="4.2" text-anchor="middle" font-weight="bold" >30</text>
<line x1="452.30" y1="175.40" x2="452.30" y2="174.30" stroke="#808080" stroke-width="0.48"/>
<line x1="452.30" y1="121.30" x2="452.30" y2="122.40" stroke="#808080" stroke-width="0.48"/>
<text x="452.30" y="181.40" transform="rotate(0.2 452.30 181.40)" font-size="4.2" text-anchor="middle" font-weight="bold" >40</text>
<line x1="469.78" y1="175.40" x2="469.78" y2="174.30" stroke="#808080" stroke-width="0.48"/>
<line x1="469.78" y1="121.30" x2="469.78" y2="122.40" stroke="#808080" stroke-width="0.48"/>
<text x="469.78" y="181.40" transform="rotate(0.2 469.78 181.40)" font-size="4.2" text-anchor="middle" font-weight="bold" >50</text>
<line x1="487.25" y1="175.40" x2="487.25" y2="174.30" stroke="#808080" stroke-width="0.48"/>
<line x1="487.25" y1="121.30" x2="487.25" y2="122.40" stroke="#808080" stroke-width="0.48"/>
<text x="487.25" y="181.40" transform="rotate(0.2 487.25 181.40)" font-size="4.2" text-anchor="middle" font-weight="bold" >60</text>
<line x1="504.73" y1="175.40" x2="504.73" y2="174.30" stroke="#808080" stroke-width="0.48"/>
<line x1="504.73" y1="121.30" x2="504.73" y2="122.40" stroke="#808080" stroke-width="0.48"/>
<text x="504.73" y="181.40" transform="rotate(0.2 504.73 181.40)" font-size="4.2" text-anchor="middle" font-weight="bold" >70</text>
<text x="522.20" y="181.40" transform="rotate(0.2 522.20 181.40)" font-size="4.2" text-anchor="middle" font-weight="bold" >80</text>
<text x="381.00" y="176.90" transform="rotate(0.2 381.00 176.90)" font-size="4.2" text-anchor="end" font-weight="bold" >0</text>
<line x1="382.40" y1="157.37" x2="383.50" y2="157.37" stroke="#808080" stroke-width="0.48"/>
<line x1="522.20" y1="157.37" x2="521.10" y2="157.37" stroke="#808080" stroke-width="0.48"/>
<text x="381.00" y="158.87" transform="rotate(0.2 381.00 158.87)" font-size="4.2" text-anchor="end" font-weight="bold" >0.5</text>
<line x1="382.40" y1="139.33" x2="383.50" y2="139.33" stroke="#808080" stroke-width="0.48"/>
<line x1="522.20" y1="139.33" x2="521.10" y2="139.33" stroke="#808080" stroke-width="0.48"/>
<text x="381.00" y="140.84" transform="rotate(0.2 381.00 140.84)" font-size="4.2" text-anchor="end" font-weight="bold" >1</text>
<text x="381.00" y="122.80" transform="rotate(0.2 381.00 122.80)" font-size="4.2" text-anchor="end" font-weight="bold" >1.5</text>
<rect x="383.61" y="166.61" width="1.58" height="1.58" fill="#000000"/>
<rect x="388.01" y="168.21" width="1.58" height="1.58" fill="#000000"/>
<rect x="392.41" y="169.01" width="1.58" height="1.58" fill="#000000"/>
<rect x="397.41" y="163.81" width="1.58" height="1.58" fill="#000000"/>
<rect x="402.61" y="156.81" width="1.58" height="1.58" fill="#000000"/>
<rect x="407.01" y="156.81" width="1.58" height="1.58" fill="#000000"/>
<rect x="411.81" y="126.41" width="1.58" height="1.58" fill="#000000"/>
<rect x="417.01" y="139.81" width="1.58" height="1.58" fill="#000000"/>
<rect x="421.41" y="146.61" width="1.58" height="1.58" fill="#000000"/>
<rect x="426.21" y="154.21" width="1.58" height="1.58" fill="#000000"/>
<rect x="436.41" y="139.41" width="1.58" height="1.58" fill="#000000"/>
<rect x="450.81" y="168.21" width="1.58" height="1.58" fill="#000000"/>
<rect x="465.21" y="172.01" width="1.58" height="1.58" fill="#000000"/>
<path d="M384.4 159.83L385.19 160.8L384.4 161.78L383.61 160.8Z" fill="#0000ff" stroke="#0000ff" stroke-width="0.71" stroke-linejoin="round"/>
<path d="M388.8 162.03L389.59 163.0L388.8 163.97L388.01 163.0Z" fill="#0000ff" stroke="#0000ff" stroke-width="0.71" stroke-linejoin="round"/>
<path d="M393.2 163.03L393.99 164.0L393.2 164.97L392.41 164.0Z" fill="#0000ff" stroke="#0000ff" stroke-width="0.71" stroke-linejoin="round"/>
<path d="M398.2 171.83L398.99 172.8L398.2 173.78L397.41 172.8Z" fill="#0000ff" stroke="#0000ff" stroke-width="0.71" stroke-linejoin="round"/>
<path d="M403.0 167.83L403.79 168.8L403.0 169.78L402.21 168.8Z" fill="#0000ff" stroke="#0000ff" stroke-width="0.71" stroke-linejoin="round"/>
<path d="M407.4 166.83L408.19 167.8L407.4 168.78L406.61 167.8Z" fill="#0000ff" stroke="#0000ff" stroke-width="0.71" stroke-linejoin="round"/>
<path d="M412.2 167.03L412.99 168.0L412.2 168.97L411.41 168.0Z" fill="#0000ff" stroke="#0000ff" stroke-width="0.71" stroke-linejoin="round"/>
<path d="M417.2 157.22L417.99 158.2L417.2 159.17L416.41 158.2Z" fill="#0000ff" stroke="#0000ff" stroke-width="0.71" stroke-linejoin="round"/>
<path d="M421.8 156.03L422.59 157.0L421.8 157.97L421.01 157.0Z" fill="#0000ff" stroke="#0000ff" stroke-width="0.71" stroke-linejoin="round"/>
<path d="M426.6 123.83L427.39 124.8L426.6 125.77L425.81 124.8Z" fill="#0000ff" stroke="#0000ff" stroke-width="0.71" stroke-linejoin="round"/>
<path d="M436.8 160.22L437.59 161.2L436.8 162.17L436.01 161.2Z" fill="#0000ff" stroke="#0000ff" stroke-width="0.71" stroke-linejoin="round"/>
<path d="M450.9 165.43L451.69 166.4L450.9 167.38L450.11 166.4Z" fill="#0000ff" stroke="#0000ff" stroke-width="0.71" stroke-linejoin="round"/>
<path d="M465.4 171.72L466.19 172.7L465.4 173.67L464.61 172.7Z" fill="#0000ff" stroke="#0000ff" stroke-width="0.71" stroke-linejoin="round"/>
<circle cx="398.6" cy="149.0" r="1.07" fill="#ff0000"/>
<circle cx="403.8" cy="140.6" r="1.07" fill="#ff0000"/>
<circle cx="408.4" cy="158.8" r="1.07" fill="#ff0000"/>
<circle cx="413.4" cy="164.6" r="1.07" fill="#ff0000"/>
<circle cx="418.6" cy="165.8" r="1.07" fill="#ff0000"/>
<circle cx="423.2" cy="169.4" r="1.07" fill="#ff0000"/>
<circle cx="428.4" cy="172.0" r="1.07" fill="#ff0000"/>
<circle cx="438.8" cy="172.8" r="1.07" fill="#ff0000"/>
<circle cx="453.6" cy="173.5" r="1.07" fill="#ff0000"/>
<circle cx="468.6" cy="174.0" r="1.07" fill="#ff0000"/>
<rect x="186.00" y="213.60" width="222.00" height="91.80" fill="#fff" stroke="#808080" stroke-width="0.85"/>
<text x="186.00" y="314.40" transform="rotate(0.2 186.00 314.40)" font-size="6.6" text-anchor="middle" font-weight="bold" >0</text>
<line x1="213.75" y1="305.40" x2="213.75" y2="303.80" stroke="#808080" stroke-width="0.68"/>
<line x1="213.75" y1="213.60" x2="213.75" y2="215.20" stroke="#808080" stroke-width="0.68"/>
<text x="213.75" y="314.40" transform="rotate(0.2 213.75 314.40)" font-size="6.6" text-anchor="middle" font-weight="bold" >10</text>
<line x1="241.50" y1="305.40" x2="241.50" y2="303.80" stroke="#808080" stroke-width="0.68"/>
<line x1="241.50" y1="213.60" x2="241.50" y2="215.20" stroke="#808080" stroke-width="0.68"/>
<text x="241.50" y="314.40" transform="rotate(0.2 241.50 314.40)" font-size="6.6" text-anchor="middle" font-weight="bold" >20</text>
<line x1="269.25" y1="305.40" x2="269.25" y2="303.80" stroke="#808080" stroke-width="0.68"/>
<line x1="269.25" y1="213.60" x2="269.25" y2="215.20" stroke="#808080" stroke-width="0.68"/>
<text x="269.25" y="314.40" transform="rotate(0.2 269.25 314.40)" font-size="6.6" text-anchor="middle" font-weight="bold" >30</text>
<line x1="297.00" y1="305.40" x2="297.00" y2="303.80" stroke="#808080" stroke-width="0.68"/>
<line x1="297.00" y1="213.60" x2="297.00" y2="215.20" stroke="#808080" stroke-width="0.68"/>
<text x="297.00" y="314.40" transform="rotate(0.2 297.00 314.40)" font-size="6.6" text-anchor="middle" font-weight="bold" >40</text>
<line x1="324.75" y1="305.40" x2="324.75" y2="303.80" stroke="#808080" stroke-width="0.68"/>
<line x1="324.75" y1="213.60" x2="324.75" y2="215.20" stroke="#808080" stroke-width="0.68"/>
<text x="324.75" y="314.40" transform="rotate(0.2 324.75 314.40)" font-size="6.6" text-anchor="middle" font-weight="bold" >50</text>
<line x1="352.50" y1="305.40" x2="352.50" y2="303.80" stroke="#808080" stroke-width="0.68"/>
<line x1="352.50" y1="213.60" x2="352.50" y2="215.20" stroke="#808080" stroke-width="0.68"/>
<text x="352.50" y="314.40" transform="rotate(0.2 352.50 314.40)" font-size="6.6" text-anchor="middle" font-weight="bold" >60</text>
<line x1="380.25" y1="305.40" x2="380.25" y2="303.80" stroke="#808080" stroke-width="0.68"/>
<line x1="380.25" y1="213.60" x2="380.25" y2="215.20" stroke="#808080" stroke-width="0.68"/>
<text x="380.25" y="314.40" transform="rotate(0.2 380.25 314.40)" font-size="6.6" text-anchor="middle" font-weight="bold" >70</text>
<text x="408.00" y="314.40" transform="rotate(0.2 408.00 314.40)" font-size="6.6" text-anchor="middle" font-weight="bold" >80</text>
<text x="184.00" y="308.06" transform="rotate(0.2 184.00 308.06)" font-size="6.6" text-anchor="end" font-weight="bold" >0</text>
<line x1="186.00" y1="274.80" x2="187.60" y2="274.80" stroke="#808080" stroke-width="0.68"/>
<line x1="408.00" y1="274.80" x2="406.40" y2="274.80" stroke="#808080" stroke-width="0.68"/>
<text x="184.00" y="277.46" transform="rotate(0.2 184.00 277.46)" font-size="6.6" text-anchor="end" font-weight="bold" >0.05</text>
<line x1="186.00" y1="244.20" x2="187.60" y2="244.20" stroke="#808080" stroke-width="0.68"/>
<line x1="408.00" y1="244.20" x2="406.40" y2="244.20" stroke="#808080" stroke-width="0.68"/>
<text x="184.00" y="246.86" transform="rotate(0.2 184.00 246.86)" font-size="6.6" text-anchor="end" font-weight="bold" >0.1</text>
<text x="184.00" y="216.26" transform="rotate(0.2 184.00 216.26)" font-size="6.6" text-anchor="end" font-weight="bold" >0.15</text>
<g transform="translate(167.00,286.10) rotate(-90)" font-weight="bold" font-size="7"><text x="-0.2" y="0" textLength="7.9" lengthAdjust="spacingAndGlyphs">Ca</text><text x="9.4" y="-3.4" font-size="5.2" letter-spacing="0.8">2+</text><text x="18.0" y="0">(mmol L</text><text x="46.1" y="-3.4" font-size="5.2" letter-spacing="0.5">-1</text><text x="51.2" y="0">)</text></g>
<text x="399.80" y="241.40" transform="rotate(0.2 399.80 241.40)" font-size="7" text-anchor="middle" font-weight="bold" >(c)</text>
<text x="297.00" y="323.00" transform="rotate(0.2 297.00 323.00)" font-size="7.05" text-anchor="middle" font-weight="bold" style="stroke-width:0.12px">Pore Volumes</text>
<rect x="188.55" y="271.35" width="2.10" height="2.10" fill="#000000"/>
<rect x="194.95" y="276.15" width="2.10" height="2.10" fill="#000000"/>
<rect x="201.15" y="278.95" width="2.10" height="2.10" fill="#000000"/>
<rect x="208.75" y="276.55" width="2.10" height="2.10" fill="#000000"/>
<rect x="216.35" y="279.35" width="2.10" height="2.10" fill="#000000"/>
<rect x="223.15" y="272.75" width="2.10" height="2.10" fill="#000000"/>
<rect x="230.55" y="285.75" width="2.10" height="2.10" fill="#000000"/>
<rect x="237.75" y="286.95" width="2.10" height="2.10" fill="#000000"/>
<rect x="244.25" y="285.35" width="2.10" height="2.10" fill="#000000"/>
<rect x="251.95" y="289.15" width="2.10" height="2.10" fill="#000000"/>
<rect x="267.15" y="288.55" width="2.10" height="2.10" fill="#000000"/>
<rect x="288.45" y="291.85" width="2.10" height="2.10" fill="#000000"/>
<rect x="310.15" y="282.35" width="2.10" height="2.10" fill="#000000"/>
<circle cx="189.6" cy="259.2" r="1.43" fill="#ff0000"/>
<circle cx="197.0" cy="269.0" r="1.43" fill="#ff0000"/>
<circle cx="204.4" cy="272.6" r="1.43" fill="#ff0000"/>
<circle cx="213.0" cy="270.2" r="1.43" fill="#ff0000"/>
<circle cx="221.6" cy="273.8" r="1.43" fill="#ff0000"/>
<circle cx="228.6" cy="286.8" r="1.43" fill="#ff0000"/>
<circle cx="237.0" cy="286.4" r="1.43" fill="#ff0000"/>
<circle cx="245.8" cy="294.2" r="1.43" fill="#ff0000"/>
<circle cx="253.2" cy="295.8" r="1.43" fill="#ff0000"/>
<circle cx="261.6" cy="288.8" r="1.43" fill="#ff0000"/>
<circle cx="278.6" cy="290.6" r="1.43" fill="#ff0000"/>
<circle cx="303.0" cy="284.0" r="1.43" fill="#ff0000"/>
<circle cx="327.4" cy="284.0" r="1.43" fill="#ff0000"/>
<path d="M189.6 229.50L190.65 230.8L189.6 232.10L188.55 230.8Z" fill="#0000ff" stroke="#0000ff" stroke-width="0.95" stroke-linejoin="round"/>
<path d="M195.8 252.30L196.85 253.6L195.8 254.90L194.75 253.6Z" fill="#0000ff" stroke="#0000ff" stroke-width="0.95" stroke-linejoin="round"/>
<path d="M202.2 261.50L203.25 262.8L202.2 264.10L201.15 262.8Z" fill="#0000ff" stroke="#0000ff" stroke-width="0.95" stroke-linejoin="round"/>
<path d="M209.8 278.70L210.85 280.0L209.8 281.30L208.75 280.0Z" fill="#0000ff" stroke="#0000ff" stroke-width="0.95" stroke-linejoin="round"/>
<path d="M217.6 264.10L218.65 265.4L217.6 266.70L216.55 265.4Z" fill="#0000ff" stroke="#0000ff" stroke-width="0.95" stroke-linejoin="round"/>
<path d="M223.8 255.10L224.85 256.4L223.8 257.70L222.75 256.4Z" fill="#0000ff" stroke="#0000ff" stroke-width="0.95" stroke-linejoin="round"/>
<path d="M231.6 271.70L232.65 273.0L231.6 274.30L230.55 273.0Z" fill="#0000ff" stroke="#0000ff" stroke-width="0.95" stroke-linejoin="round"/>
<path d="M238.8 271.30L239.85 272.6L238.8 273.90L237.75 272.6Z" fill="#0000ff" stroke="#0000ff" stroke-width="0.95" stroke-linejoin="round"/>
<path d="M245.3 276.30L246.35 277.6L245.3 278.90L244.25 277.6Z" fill="#0000ff" stroke="#0000ff" stroke-width="0.95" stroke-linejoin="round"/>
<path d="M253.0 266.50L254.05 267.8L253.0 269.10L251.95 267.8Z" fill="#0000ff" stroke="#0000ff" stroke-width="0.95" stroke-linejoin="round"/>
<path d="M268.2 280.30L269.25 281.6L268.2 282.90L267.15 281.6Z" fill="#0000ff" stroke="#0000ff" stroke-width="0.95" stroke-linejoin="round"/>
<path d="M289.6 274.50L290.65 275.8L289.6 277.10L288.55 275.8Z" fill="#0000ff" stroke="#0000ff" stroke-width="0.95" stroke-linejoin="round"/>
<path d="M311.2 261.50L312.25 262.8L311.2 264.10L310.15 262.8Z" fill="#0000ff" stroke="#0000ff" stroke-width="0.95" stroke-linejoin="round"/>
<rect x="243.4" y="323.8" width="104.8" height="8.4" fill="#fff" stroke="#666" stroke-width="0.9"/>
<circle cx="251.3" cy="328.0" r="1.36" fill="#ff0000"/>
<path d="M286.0 326.76L287.00 328.0L286.0 329.24L285.00 328.0Z" fill="#0000ff" stroke="#0000ff" stroke-width="0.90" stroke-linejoin="round"/>
<rect x="321.50" y="327.00" width="1.99" height="1.99" fill="#000000"/>
<text x="259.30" y="330.30" transform="rotate(0.2 259.30 330.30)" font-size="5.7" text-anchor="start" font-weight="bold" >&lt;2mm</text>
<text x="294.00" y="330.30" transform="rotate(0.2 294.00 330.30)" font-size="5.7" text-anchor="start" font-weight="bold" >2-6mm</text>
<text x="330.40" y="330.30" transform="rotate(0.2 330.40 330.30)" font-size="5.7" text-anchor="start" font-weight="bold" >&gt;6mm</text>
</svg>
</body></html>
